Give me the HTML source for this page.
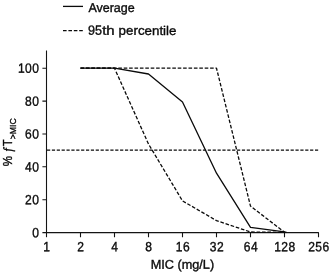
<!DOCTYPE html>
<html><head><meta charset="utf-8">
<style>
html,body{margin:0;padding:0;background:#fff;}
svg{display:block;}
text{font-family:"Liberation Sans",sans-serif;fill:#0a0a0a;stroke:#0a0a0a;stroke-width:0.36;}
</style></head>
<body>
<svg width="331" height="274" viewBox="0 0 331 274">
<rect width="331" height="274" fill="#fff"/>
<line x1="63" y1="6.4" x2="83" y2="6.4" stroke="#0a0a0a" stroke-width="1.3"/>
<line x1="63" y1="30.7" x2="83" y2="30.7" stroke="#0a0a0a" stroke-width="1.3" stroke-dasharray="3.6,1.8"/>
<text transform="translate(88.4 11.9) rotate(0.03) scale(0.985 1)" font-size="12.7" text-anchor="start">Average</text>
<text transform="translate(0 34.8) rotate(0.03)" font-size="12.7"><tspan x="88" font-size="13.4" textLength="14.0" lengthAdjust="spacingAndGlyphs">95</tspan><tspan x="102.2" textLength="12.5" lengthAdjust="spacingAndGlyphs">th</tspan> <tspan x="118.6" textLength="57.85" lengthAdjust="spacingAndGlyphs">percentile</tspan></text>
<g stroke="#141414" stroke-width="1.1" fill="none">
<path d="M46.5 50.5V237.2"/>
<path d="M42.4 232.6H318.8"/>
<path d="M42.4 68.2H46.5M42.4 101.1H46.5M42.4 134H46.5M42.4 166.8H46.5M42.4 199.7H46.5"/>
<path d="M80.5 232.6V237.2M114.5 232.6V237.2M148.5 232.6V237.2M182.5 232.6V237.2M216.5 232.6V237.2M250.5 232.6V237.2M284.5 232.6V237.2M318.5 232.6V237.2"/>
</g>
<text transform="translate(39.2 72.8) rotate(0.03) scale(0.9 1)" font-size="13.4" text-anchor="end" letter-spacing="0.4">100</text>
<text transform="translate(39.2 105.69999999999999) rotate(0.03) scale(0.9 1)" font-size="13.4" text-anchor="end" letter-spacing="0.4">80</text>
<text transform="translate(39.2 138.6) rotate(0.03) scale(0.9 1)" font-size="13.4" text-anchor="end" letter-spacing="0.4">60</text>
<text transform="translate(39.2 171.4) rotate(0.03) scale(0.9 1)" font-size="13.4" text-anchor="end" letter-spacing="0.4">40</text>
<text transform="translate(39.2 204.29999999999998) rotate(0.03) scale(0.9 1)" font-size="13.4" text-anchor="end" letter-spacing="0.4">20</text>
<text transform="translate(39.2 237.2) rotate(0.03) scale(0.9 1)" font-size="13.4" text-anchor="end" letter-spacing="0.4">0</text>
<text transform="translate(46.9 251.25) rotate(0.03) scale(0.9 1)" font-size="13.4" text-anchor="middle" letter-spacing="0.5">1</text>
<text transform="translate(80.9 251.25) rotate(0.03) scale(0.9 1)" font-size="13.4" text-anchor="middle" letter-spacing="0.5">2</text>
<text transform="translate(114.9 251.25) rotate(0.03) scale(0.9 1)" font-size="13.4" text-anchor="middle" letter-spacing="0.5">4</text>
<text transform="translate(148.9 251.25) rotate(0.03) scale(0.9 1)" font-size="13.4" text-anchor="middle" letter-spacing="0.5">8</text>
<text transform="translate(182.9 251.25) rotate(0.03) scale(0.9 1)" font-size="13.4" text-anchor="middle" letter-spacing="0.5">16</text>
<text transform="translate(216.9 251.25) rotate(0.03) scale(0.9 1)" font-size="13.4" text-anchor="middle" letter-spacing="0.5">32</text>
<text transform="translate(250.9 251.25) rotate(0.03) scale(0.9 1)" font-size="13.4" text-anchor="middle" letter-spacing="0.5">64</text>
<text transform="translate(284.9 251.25) rotate(0.03) scale(0.9 1)" font-size="13.4" text-anchor="middle" letter-spacing="0.5">128</text>
<text transform="translate(318.9 251.25) rotate(0.03) scale(0.9 1)" font-size="13.4" text-anchor="middle" letter-spacing="0.5">256</text>
<text transform="translate(182.4 268.8) rotate(0.03) scale(1.0 1)" font-size="12.7" text-anchor="middle">MIC (mg/L)</text>
<text transform="translate(12 166) rotate(-90)" font-size="12.7"><tspan x="-0.2" font-size="13.6" textLength="10.28" lengthAdjust="spacingAndGlyphs">%</tspan> <tspan x="14.5" font-size="11.8" style="font-style:italic;font-family:'Liberation Serif',serif">f</tspan><tspan x="19.9" textLength="6.58" lengthAdjust="spacingAndGlyphs">T</tspan><tspan x="26.7" dy="4.4" font-size="9.6" textLength="21.08" lengthAdjust="spacingAndGlyphs">&gt;MIC</tspan></text>
<g stroke="#0a0a0a" stroke-width="1.3" fill="none" stroke-linejoin="round">
<path d="M47 150H318.5" stroke-dasharray="3.2,1.672" stroke-width="1.25"/>
<path d="M80.5 68.2H114.5L148.5 74L182.5 102L216.5 173.2L250.5 227.3L284.5 231.8L286.6 232.3"/>
<path d="M80.5 68.2H216.5L250.5 206.1L284.5 232.2" stroke-dasharray="3.6,1.8"/>
<path d="M80.5 68.2H114.5L148.5 144L182.5 200.9L216.5 220.6L250.5 232L284.5 232.4" stroke-dasharray="3.6,1.8"/>
</g>
</svg>
</body></html>
